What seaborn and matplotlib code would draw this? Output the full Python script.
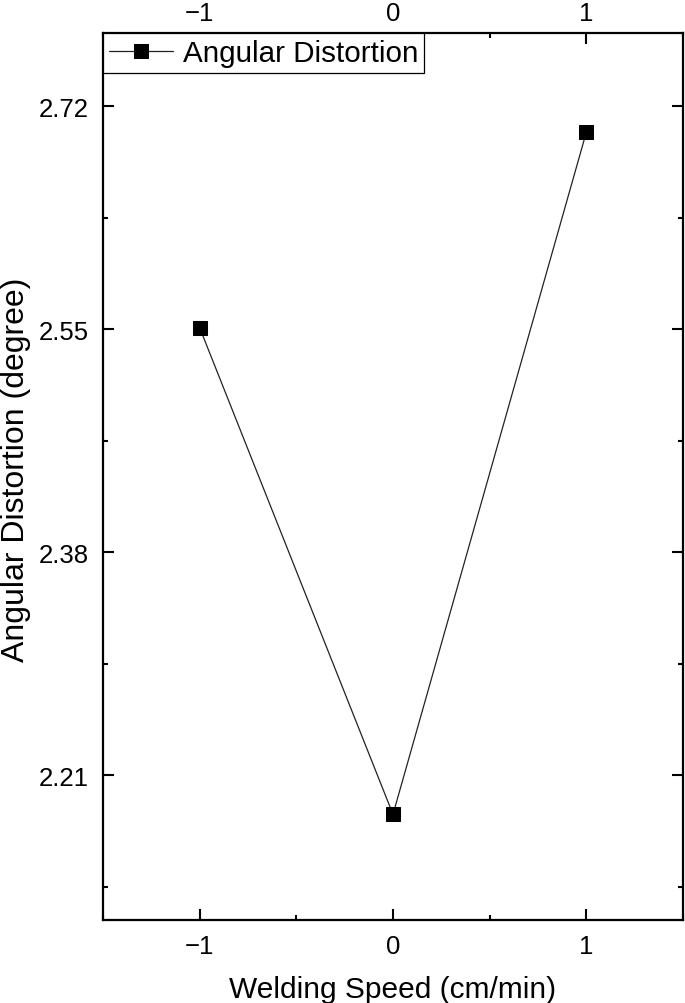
import numpy as np
import pandas as pd
import matplotlib
matplotlib.use('Agg')
import matplotlib.pyplot as plt
import matplotlib.transforms as mtransforms
import seaborn as sns
from matplotlib.ticker import AutoMinorLocator

# values
speed_levels = [-1, 0, 1]
angular_distortion = [2.551, 2.180, 2.700]
y_ticks = [2.21, 2.38, 2.55, 2.72]
x_ticks = [-1, 0, 1]

sns.set_style('ticks')
plt.rcParams['font.family'] = ['Liberation Sans', 'DejaVu Sans']
plt.rcParams['axes.unicode_minus'] = True
plt.rcParams['text.color'] = 'black'
plt.rcParams['axes.labelcolor'] = 'black'

df = pd.DataFrame({'speed': speed_levels, 'distortion': angular_distortion})

fig = plt.figure(figsize=(6.85, 10.04), dpi=100)
ax = fig.add_axes([0.1504, 0.0827, 0.997 - 0.1504, 0.9661 - 0.0827])

sns.lineplot(data=df, x='speed', y='distortion', ax=ax, marker='s', color='black',
             linewidth=0.9, markersize=9.5, markeredgecolor='black',
             label='Angular Distortion')
ax.lines[0].set_color('#222222')
ax.lines[0].set_markerfacecolor('black')

ax.set_xlim(-1.5, 1.5)
ax.set_ylim(2.0995, 2.7757)
ax.set_xticks(x_ticks)
ax.set_yticks(y_ticks)
ax.set_yticklabels([f'{v:.2f}' for v in y_ticks])
ax.xaxis.set_minor_locator(AutoMinorLocator(2))
ax.yaxis.set_minor_locator(AutoMinorLocator(2))

ax.tick_params(which='both', direction='in', top=True, right=True, labeltop=True,
               width=1.5, colors='black', labelcolor='black', labelsize=18.5)
ax.tick_params(which='major', length=8, pad=10)
ax.tick_params(which='minor', length=3.8)
for s in ax.spines.values():
    s.set_linewidth(1.6)
    s.set_color('black')

# nudge the top tick labels down a little so they stay on the canvas
shift = mtransforms.ScaledTranslation(0, -4 / 72, fig.dpi_scale_trans)
for tick in ax.xaxis.get_major_ticks():
    tick.label2.set_transform(tick.label2.get_transform() + shift)

ax.set_xlabel('Welding Speed (cm/min)', fontsize=21.5, labelpad=12, color='black')
ax.set_ylabel('Angular Distortion (degree)', fontsize=23, color='black')
ax.yaxis.set_label_coords(-0.124, 0.509)

leg = ax.legend(loc='upper left', fontsize=21.3, frameon=True, fancybox=False,
                borderaxespad=0, borderpad=0.2, handlelength=2.15,
                handletextpad=0.35, edgecolor='black', framealpha=1)
leg.get_frame().set_linewidth(0.9)
for t in leg.get_texts():
    t.set_color('black')

fig.savefig('out.png', dpi=100)
